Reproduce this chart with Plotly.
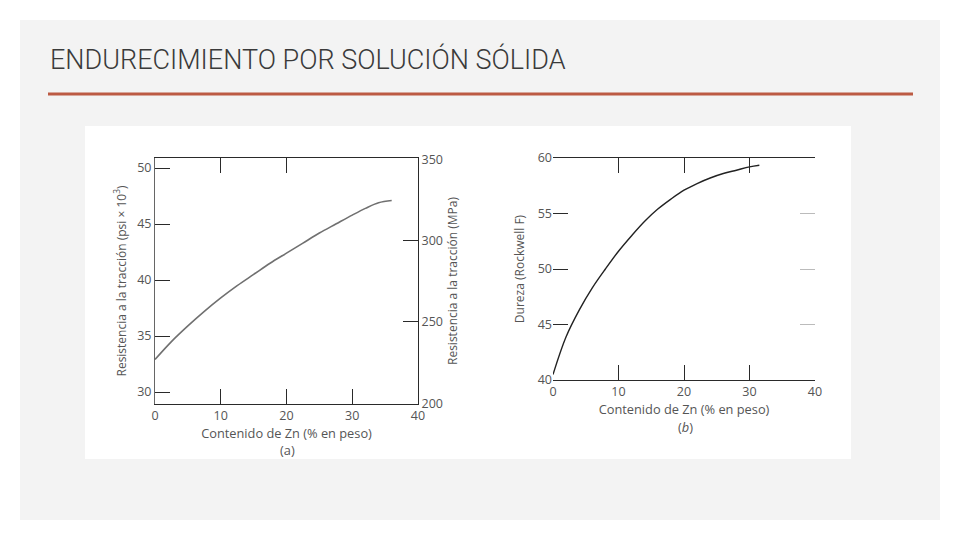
import plotly.graph_objects as go

W, H = 960, 540

# ---- data ----
zn_a = [0, 2.5, 5, 7.5, 10, 12.5, 15, 17.5, 20, 22.5, 25, 27.5, 30, 32, 34, 36]
psi_a = [32.9, 34.5, 35.9, 37.2, 38.4, 39.5, 40.5, 41.5, 42.4, 43.3, 44.2, 45.0,
         45.8, 46.4, 46.9, 47.1]

zn_b = [0, 2, 4, 6, 8, 10, 12, 14, 16, 18, 20, 22, 24, 26, 28, 30, 31.5]
hrf_b = [40.5, 43.9, 46.3, 48.3, 50.0, 51.6, 53.0, 54.3, 55.4, 56.3, 57.1, 57.7,
         58.2, 58.6, 58.9, 59.2, 59.35]

x_ticks = [0, 10, 20, 30, 40]
psi_ticks = [30, 35, 40, 45, 50]
mpa_ticks = [200, 250, 300, 350]
hrf_ticks = [40, 45, 50, 55, 60]

PSI_PER_MPA = 0.145038
psi_range = [28.93, 50.9]
mpa_range = [psi_range[0] / PSI_PER_MPA, psi_range[1] / PSI_PER_MPA]
mpa_a = [v / PSI_PER_MPA for v in psi_a]


def px(x):
    return x / W


def py(y):
    return 1 - y / H


FONT = "Open Sans"
TXT = "#555555"
LINE = "#2a2a2a"
tickfont = dict(family=FONT, size=12.5, color=TXT)
xtitlefont = dict(family=FONT, size=12.8, color=TXT)
ytitlefont = dict(family=FONT, size=12, color=TXT)

fig = go.Figure()
fig.add_trace(go.Scatter(x=zn_a, y=psi_a, mode="lines", xaxis="x", yaxis="y",
                         line=dict(color="#707070", width=1.6, shape="spline"),
                         showlegend=False, hoverinfo="skip"))
fig.add_trace(go.Scatter(x=zn_b, y=hrf_b, mode="lines", xaxis="x4", yaxis="y4",
                         line=dict(color="#222222", width=1.4, shape="spline"),
                         showlegend=False, hoverinfo="skip"))
# invisible companions so every overlaying axis gets drawn
ghost = dict(mode="lines", line=dict(color="rgba(0,0,0,0)", width=0),
             showlegend=False, hoverinfo="skip")
fig.add_trace(go.Scatter(x=zn_a, y=psi_a, xaxis="x2", yaxis="y", **ghost))
fig.add_trace(go.Scatter(x=zn_a, y=mpa_a, xaxis="x", yaxis="y2", **ghost))
fig.add_trace(go.Scatter(x=zn_a, y=mpa_a, xaxis="x", yaxis="y3", **ghost))
fig.add_trace(go.Scatter(x=zn_b, y=hrf_b, xaxis="x5", yaxis="y4", **ghost))
fig.add_trace(go.Scatter(x=zn_b, y=hrf_b, xaxis="x4", yaxis="y5", **ghost))

dom_xa = [px(155), px(418)]
dom_ya = [py(404), py(158)]
dom_xb = [px(553), px(815)]
dom_yb = [py(380), py(158)]

common = dict(showgrid=False, zeroline=False, ticks="inside", ticklen=15,
              tickcolor=LINE, tickwidth=1, linecolor=LINE, linewidth=1,
              tickfont=tickfont, fixedrange=True, automargin=False)

fig.update_layout(
    width=W, height=H,
    margin=dict(l=0, r=0, t=0, b=0, pad=0, autoexpand=False),
    paper_bgcolor="white", plot_bgcolor="rgba(0,0,0,0)",
    # ---- chart (a) ----
    xaxis=dict(domain=dom_xa, anchor="y", range=[0, 40], tickvals=x_ticks,
               showline=True, title=dict(text="Contenido de Zn (% en peso)",
                                         font=xtitlefont, standoff=2), **common),
    xaxis2=dict(domain=dom_xa, overlaying="x", anchor="y", side="top", range=[0, 40],
                tickvals=[10, 20], showticklabels=False, showline=True, **common),
    yaxis=dict(domain=dom_ya, anchor="x", range=psi_range, tickvals=psi_ticks,
               showline=True, linecolor="#666666",
               title=dict(text="Resistencia a la tracción (psi × 10<sup>3</sup>)",
                          font=ytitlefont, standoff=8),
               **{k: v for k, v in common.items() if k != "linecolor"}),
    yaxis2=dict(domain=dom_ya, overlaying="y", anchor="x", side="right",
                range=mpa_range, tickvals=mpa_ticks, showline=True,
                title=dict(text="Resistencia a la tracción (MPa)",
                           font=ytitlefont, standoff=6),
                **{**common, "ticks": ""}),
    yaxis3=dict(domain=dom_ya, overlaying="y", anchor="x", side="right",
                range=mpa_range, tickvals=[250, 300], showticklabels=False,
                showline=False, **common),
    # ---- chart (b) ----
    xaxis4=dict(domain=dom_xb, anchor="y4", range=[0, 40], tickvals=x_ticks,
                showline=True, title=dict(text="Contenido de Zn (% en peso)",
                                          font=xtitlefont, standoff=2), **common),
    xaxis5=dict(domain=dom_xb, overlaying="x4", anchor="y4", side="top", range=[0, 40],
                tickvals=[10, 20, 30], showticklabels=False, showline=True, **common),
    yaxis4=dict(domain=dom_yb, anchor="x4", range=[40, 60], tickvals=hrf_ticks,
                showline=False,
                title=dict(text="Dureza (Rockwell F)", font=ytitlefont, standoff=10),
                **common),
    yaxis5=dict(domain=dom_yb, overlaying="y4", anchor="x4", side="right",
                range=[40, 60], tickvals=[45, 50, 55], showticklabels=False,
                showline=False, **{**common, "tickcolor": "#bbbbbb"}),
    shapes=[
        dict(type="rect", xref="paper", yref="paper", x0=px(20), x1=px(940),
             y0=py(520), y1=py(20), fillcolor="#f3f3f3", line=dict(width=0), layer="below"),
        dict(type="rect", xref="paper", yref="paper", x0=px(85), x1=px(851),
             y0=py(459), y1=py(126), fillcolor="white", line=dict(width=0), layer="below"),
        dict(type="line", xref="paper", yref="paper", x0=px(48), x1=px(913),
             y0=py(94), y1=py(94), line=dict(color="#BC5A43", width=3)),
    ],
    annotations=[
        dict(text="ENDURECIMIENTO POR SOLUCIÓN SÓLIDA", xref="paper", yref="paper",
             x=px(48), y=py(59), xanchor="left", yanchor="middle", showarrow=False,
             font=dict(family="Roboto", size=27, color="#3a3a3a", weight=300)),
        dict(text="(a)", xref="paper", yref="paper", x=px(287), y=py(450),
             xanchor="center", yanchor="middle", showarrow=False, font=xtitlefont),
        dict(text="(<i>b</i>)", xref="paper", yref="paper", x=px(685), y=py(427),
             xanchor="center", yanchor="middle", showarrow=False, font=xtitlefont),
    ],
)

fig.write_html("out.html", config={"displayModeBar": False},
               post_script="document.body.style.margin='0';"
                           "document.body.style.overflow='hidden';")
